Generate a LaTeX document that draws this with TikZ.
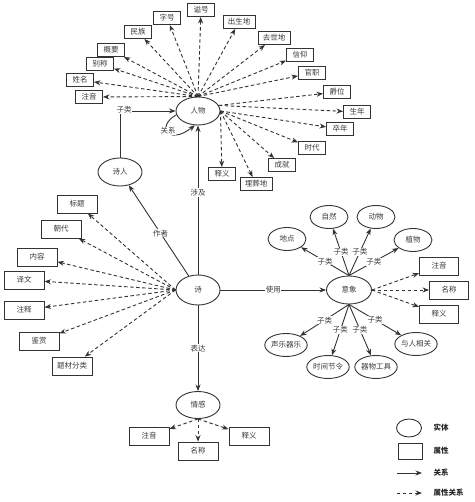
\documentclass[tikz,border=0pt]{standalone}
\usepackage{fontspec}
\newfontfamily\cjk{Noto Sans CJK SC}
\usetikzlibrary{shapes.geometric,arrows.meta}
\definecolor{lc}{HTML}{333333}
\definecolor{tc}{HTML}{3A3A3A}
\begin{document}
\begin{tikzpicture}[x=1pt,y=-1pt,
 every node/.style={font=\cjk\fontsize{7.5}{9}\selectfont, text=tc},
 ent/.style={ellipse, draw=lc, line width=0.9pt, minimum width=44pt, minimum height=28pt, inner sep=0pt},
 subent/.style={ent, minimum width=38pt, minimum height=23pt},
 subentw/.style={ent, minimum width=41pt, minimum height=23pt},
 attr/.style={rectangle, draw=lc, line width=0.9pt, minimum width=27pt, minimum height=13pt, inner sep=0pt},
 attrw/.style={attr, minimum width=32pt},
 attrb/.style={attr, minimum width=40pt, minimum height=18pt},
 rel/.style={draw=lc, line width=0.9pt, -{Stealth[length=6.5pt,width=5pt]}},
 prel/.style={rel, dash pattern=on 3.5pt off 2.5pt},
 lab/.style={fill=white, inner sep=0.6pt},
 legt/.style={anchor=west, font=\cjk\bfseries\fontsize{7.5}{9}\selectfont, text=black!85}
]
\useasboundingbox (0,0) rectangle (474,502);

% main entities
\node[ent] (rw) at (198,111) {人物};
\node[ent] (sr) at (120,172) {诗人};
\node[ent, minimum height=30pt] (ps) at (198,290) {诗};
\node[ent, minimum width=45pt] (yx) at (349,290) {意象};
\node[ent, minimum height=27pt] (qg) at (198,405) {情感};

% person attributes
\node[attr] (a1) at (201,10) {谥号};
\node[attr] (a2) at (167,18) {字号};
\node[attr] (a3) at (138,32) {民族};
\node[attr] (a4) at (111,50) {概要};
\node[attr] (a5) at (100,64) {别称};
\node[attr] (a6) at (80,80) {姓名};
\node[attr] (a7) at (89,97) {注音};
\node[attrw] (a8) at (239,22) {出生地};
\node[attrw] (a9) at (274,38) {去世地};
\node[attr] (a10) at (300,55) {信仰};
\node[attr] (a11) at (312,73) {官职};
\node[attr] (a12) at (337,92) {爵位};
\node[attr] (a13) at (357,112) {生年};
\node[attr] (a14) at (340,129) {卒年};
\node[attr] (a15) at (312,148) {时代};
\node[attr] (a16) at (282,165) {成就};
\node[attrw] (a17) at (256,184) {埋葬地};
\node[attr] (a18) at (222,174) {释义};

% poem attributes
\node[attrb] (p1) at (77,204) {标题};
\node[attrb] (p2) at (61,229) {朝代};
\node[attrb] (p3) at (37,257) {内容};
\node[attrb] (p4) at (24,280) {译文};
\node[attrb] (p5) at (24,310) {注释};
\node[attrb] (p6) at (39,341) {鉴赏};
\node[attrb] (p7) at (72,366) {题材分类};

% image sub-entities
\node[subent] (y1) at (329,217) {自然};
\node[subent] (y2) at (376,217) {动物};
\node[subent] (y3) at (287,239) {地点};
\node[subent] (y4) at (413,240) {植物};
\node[subentw] (y5) at (286,345) {声乐器乐};
\node[subentw] (y6) at (328,367) {时间节令};
\node[subentw] (y7) at (376,367) {器物工具};
\node[subentw] (y8) at (416,344) {与人相关};

% image attributes
\node[attrb, minimum width=39pt] (b1) at (439,266) {注音};
\node[attrb, minimum width=39pt] (b2) at (449,290) {名称};
\node[attrb, minimum width=39pt] (b3) at (439,314) {释义};

% emotion attributes
\node[attrb] (c1) at (149,436) {注音};
\node[attrb] (c2) at (198,451) {名称};
\node[attrb] (c3) at (249,436) {释义};

% solid relations
\draw[rel] (ps) -- (rw) node[lab, pos=0.55] {涉及};
\draw[rel] (ps) -- (sr) node[lab, pos=0.47] {作者};
\draw[rel] (sr.north) |- (rw.west);
\node[lab] at (124,110) {子类};
\draw[rel] (rw.190) .. controls (156,126) and (168,146) .. (rw.258);
\node[lab] at (168,131) {关系};
\draw[rel] (ps) -- (yx) node[lab, pos=0.5] {使用};
\draw[rel] (ps) -- (qg) node[lab, pos=0.5] {表达};

\foreach \t in {y1,y2,y3,y4}
  \draw[rel] (yx.north) -- (\t) node[lab, pos=0.5] {子类};
\foreach \t in {y5,y6,y7,y8}
  \draw[rel] (yx.south) -- (\t) node[lab, pos=0.5] {子类};

% dashed attribute relations
\foreach \t in {a1,a2,a3,a4,a5,a6,a7,a8,a9,a10,a11}
  \draw[prel] (rw.north) -- (\t);
\foreach \t in {a12,a13}
  \draw[prel] (rw.15) -- (\t);
\foreach \t in {a14,a15,a16,a17,a18}
  \draw[prel] (rw.east) -- (\t);
\foreach \t in {p1,p2,p3,p4,p5,p6,p7}
  \draw[prel] (ps.west) -- (\t);
\foreach \t in {b1,b2,b3}
  \draw[prel] (yx.east) -- (\t);
\foreach \t in {c1,c2,c3}
  \draw[prel] (qg.south) -- (\t);

% legend
\node[ent, minimum width=25pt, minimum height=18pt] (l1) at (409,428) {};
\node[legt] (l1t) at (430,428) {实体};
\node[attr, minimum width=24pt, minimum height=16pt] (l2) at (410,451) {};
\node[legt] (l2t) at (430,451) {属性};
\coordinate (l3a) at (397,473);
\coordinate (l3b) at (422,473);
\draw[rel] (l3a) -- (l3b);
\node[legt] (l3t) at (430,473) {关系};
\coordinate (l4a) at (397,493);
\coordinate (l4b) at (422,493);
\draw[prel, dash pattern=on 3pt off 3pt] (l4a) -- (l4b);
\node[legt] (l4t) at (430,493) {属性关系};
\end{tikzpicture}
\end{document}
